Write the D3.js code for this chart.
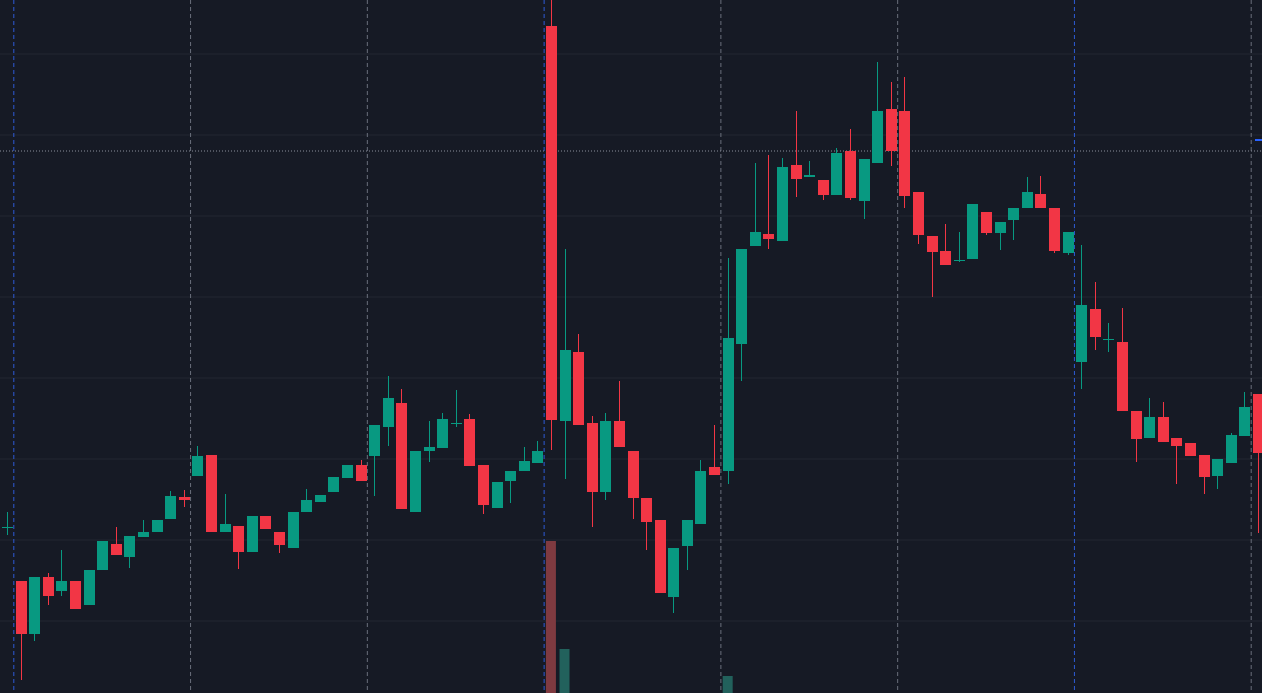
<!DOCTYPE html>
<html><head><meta charset="utf-8">
<script src="https://cdn.jsdelivr.net/npm/d3@7"></script>
<style>html,body{margin:0;padding:0;background:#161a25;overflow:hidden}</style>
</head><body><svg id="c" width="1262" height="693"></svg>
<script>
const open  = [173,119,66,123,109,119,95,130,156,143,163,168,181,203,224,245,168,174,148,184,168,152,188,198,208,222,235,244,273,297,188,249,252,277,281,235,192,219,229,237,674,279,348,277,208,279,249,202,180,103,154,176,233,229,356,454,466,459,535,523,520,505,549,499,537,591,589,508,464,449,439,441,488,467,480,492,506,492,447,338,391,361,358,289,262,283,262,257,245,224,237,264,306];
const close = [173,66,123,104,119,91,130,159,145,164,168,180,204,200,244,168,176,148,184,171,155,188,200,205,223,235,219,275,302,191,249,253,281,277,234,195,218,229,239,249,280,350,275,208,279,253,202,178,107,152,180,229,225,362,451,468,461,533,521,525,505,547,502,541,589,549,504,465,448,435,440,496,467,478,492,508,492,449,468,395,363,361,289,261,283,258,254,244,223,241,265,293,247];
const high  = [188,119,123,127,150,119,130,159,173,164,180,180,209,210,254,245,206,174,184,184,168,188,211,205,223,235,240,275,324,311,249,279,287,310,286,235,218,229,253,259,700,451,366,284,287,319,249,202,180,152,180,240,275,442,451,537,545,542,589,539,520,552,571,541,638,618,623,508,464,476,468,496,488,478,492,523,524,492,468,455,418,377,392,289,302,298,262,257,245,241,267,308,306];
const low   = [165,20,59,95,104,91,95,130,145,132,163,168,181,193,224,168,168,131,148,171,147,152,188,198,208,222,219,204,254,191,188,238,252,273,234,186,192,197,229,237,250,221,275,173,200,253,181,150,107,87,130,176,225,216,319,454,451,459,503,523,500,505,500,481,537,534,492,456,403,435,438,441,465,450,460,492,492,447,445,311,350,348,289,238,262,258,216,244,206,211,237,264,167];
const volume = [8,10,6,9,5,7,6,10,5,6,4,5,8,6,9,12,5,7,6,4,5,8,6,5,7,6,5,11,12,13,10,6,7,8,9,10,6,5,6,7,169,61,15,14,12,10,9,12,14,13,10,12,8,34,15,12,9,13,10,7,8,11,12,10,14,13,15,12,10,8,6,11,7,6,5,7,6,9,8,15,12,7,14,11,9,8,7,6,9,8,10,12,14];
const priceTicks = [79,160,241,322,403,484,565,646];
const timeLines = [0.5,13.5,26.5,39.5,52.5,65.5,78.5,91.5];
const blueLines = [0.5,39.5,78.5];
const lastLine = 549;

const W=1262,H=693;
const svg=d3.select("#c");
const x=d3.scaleLinear().domain([0,92]).range([7,1258]);
const y=d3.scaleLinear().domain([0,700]).range([700,0]);
const vy=d3.scaleLinear().domain([0,169]).range([710,541]);
const up="#089981",dn="#f23645";

svg.append("rect").attr("width",W).attr("height",H).attr("fill","#161a25");
svg.append("g").selectAll("line").data(priceTicks).join("line")
 .attr("x1",0).attr("x2",W).attr("y1",d=>y(d)).attr("y2",d=>y(d)).attr("stroke","#232733");
svg.append("g").selectAll("line").data(timeLines).join("line")
 .attr("x1",d=>x(d)).attr("x2",d=>x(d)).attr("y1",0).attr("y2",H)
 .attr("stroke",d=>blueLines.includes(d)?"#2e5bd6":"#6a6f7c").attr("stroke-dasharray","4,3").attr("stroke-width",1);

const idx=d3.range(open.length);
svg.append("g").selectAll("rect").data(idx).join("rect")
 .attr("x",i=>x(i)-5).attr("width",10).attr("y",i=>vy(volume[i])).attr("height",i=>vy(0)-vy(volume[i]))
 .attr("fill",i=>close[i]>=open[i]?"#22615c":"#7f3a40");

svg.append("line").attr("x1",0).attr("x2",W).attr("y1",y(lastLine)).attr("y2",y(lastLine))
 .attr("stroke","#8a8f9c").attr("stroke-dasharray","1,2");
svg.append("rect").attr("x",1255).attr("y",y(560)-1).attr("width",7).attr("height",2).attr("fill","#2962ff");

const g=svg.append("g");
g.selectAll("line").data(idx).join("line")
 .attr("x1",i=>Math.round(x(i))+0.5).attr("x2",i=>Math.round(x(i))+0.5)
 .attr("y1",i=>y(high[i])).attr("y2",i=>y(low[i]))
 .attr("stroke",i=>close[i]>=open[i]?up:dn);
g.selectAll("rect").data(idx).join("rect")
 .attr("x",i=>Math.round(x(i))-5).attr("width",11)
 .attr("y",i=>y(Math.max(open[i],close[i])))
 .attr("height",i=>Math.max(1,Math.abs(open[i]-close[i])*(y(0)-y(1))))
 .attr("fill",i=>close[i]>=open[i]?up:dn);
</script></body></html>
